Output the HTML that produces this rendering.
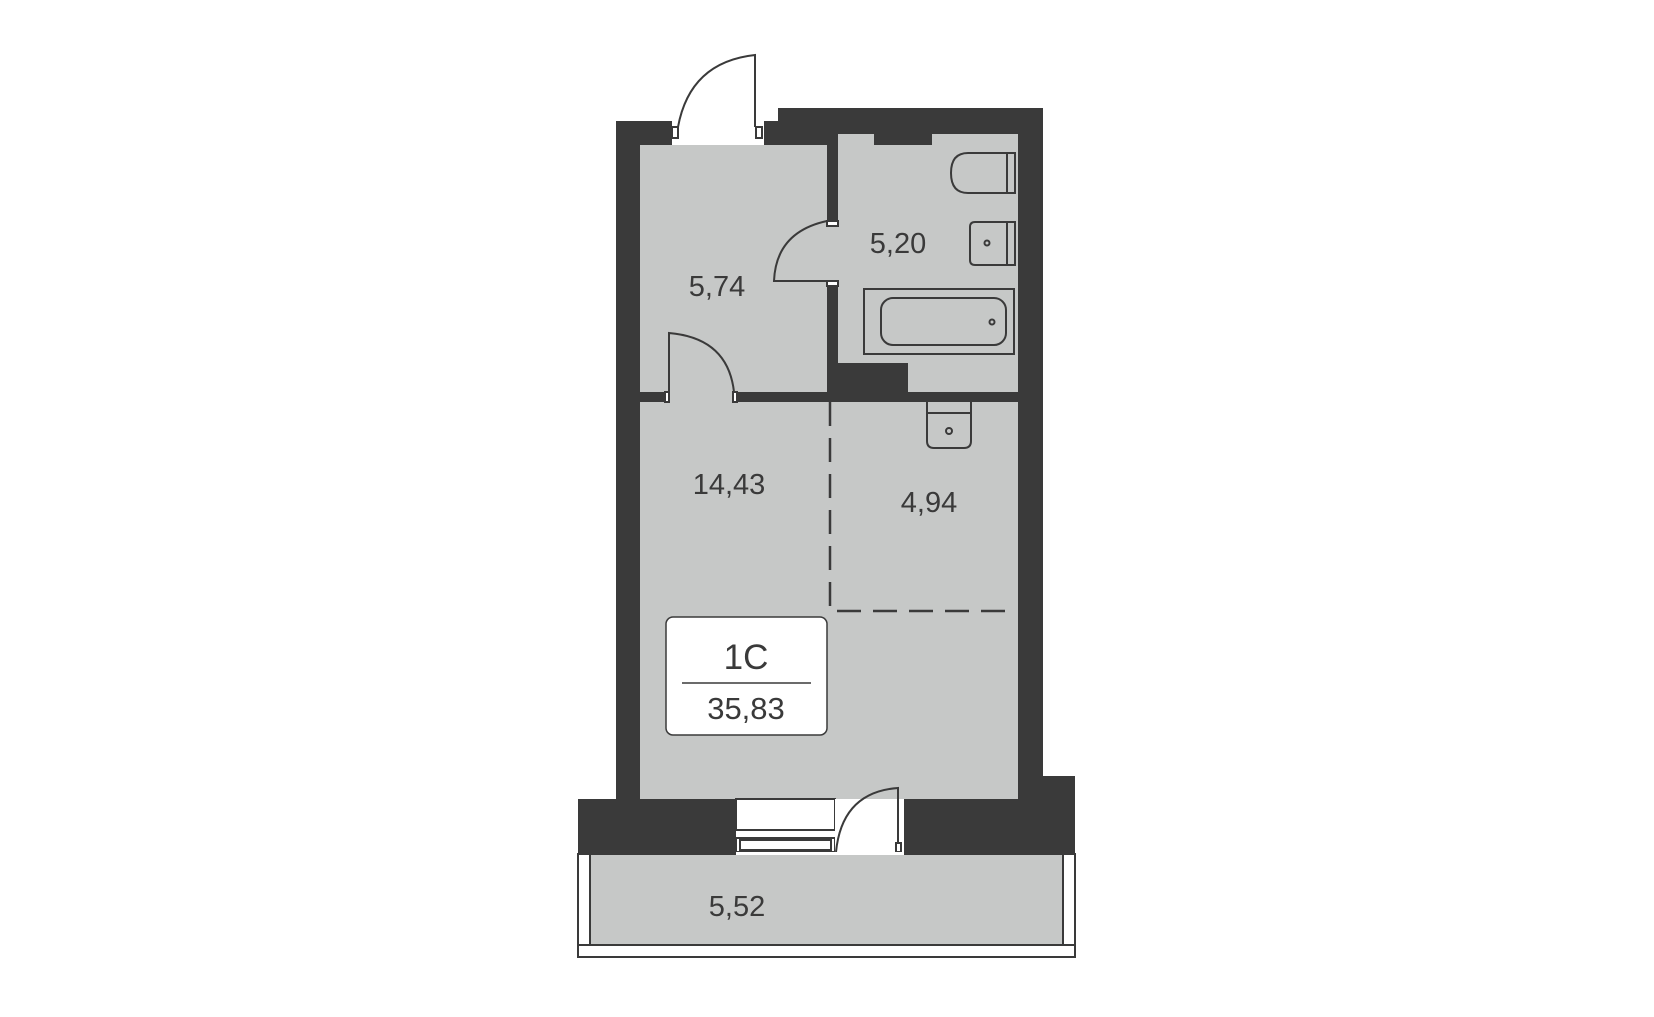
<!DOCTYPE html>
<html><head><meta charset="utf-8"><style>
html,body{margin:0;padding:0;background:#fff}
svg{display:block}
text{font-family:"Liberation Sans",sans-serif;fill:#3a3a3a}
</style></head><body>
<svg width="1654" height="1017" viewBox="0 0 1654 1017" xmlns="http://www.w3.org/2000/svg">
<rect width="1654" height="1017" fill="#fff"/>
<!-- floors -->
<rect x="640" y="145" width="188" height="256" fill="#c6c8c7"/>
<rect x="826" y="134" width="192" height="268" fill="#c6c8c7"/>
<rect x="640" y="400" width="378" height="399" fill="#c6c8c7"/>
<rect x="578" y="854" width="497" height="103" fill="#c6c8c7"/>
<!-- walls -->
<g fill="#3a3a3a">
<rect x="616" y="121" width="56" height="24"/>
<rect x="616" y="121" width="24" height="678"/>
<rect x="764" y="121" width="14" height="24"/>
<rect x="778" y="108" width="265" height="26"/>
<rect x="764" y="134" width="73" height="11"/>
<rect x="874" y="134" width="58" height="11"/>
<rect x="1018" y="108" width="25" height="668"/>
<rect x="1018" y="776" width="57" height="78"/>
<rect x="827" y="134" width="11" height="87"/>
<rect x="827" y="287" width="11" height="115"/>
<rect x="827" y="363" width="81" height="39"/>
<rect x="640" y="392" width="28" height="10"/>
<rect x="737" y="392" width="281" height="10"/>
<rect x="578" y="799" width="158" height="55"/>
<rect x="904" y="799" width="171" height="55"/>
<rect x="616" y="780" width="24" height="20"/>
</g>
<g fill="none" stroke="#3a3a3a" stroke-width="2">
<rect x="672" y="127" width="6" height="11" fill="#fff"/>
<rect x="756" y="127" width="6" height="11" fill="#fff"/>
<path d="M755 127 V55 Q690 62 678 127"/>
<rect x="827" y="221" width="11" height="5" fill="#fff"/>
<rect x="827" y="281" width="11" height="5" fill="#fff"/>
<path d="M827 281 H774 Q776 232 827 221"/>
<rect x="665" y="392" width="4" height="10" fill="#fff"/>
<rect x="733" y="392" width="4" height="10" fill="#fff"/>
<path d="M669 392 V333 Q728 338 734 392"/>
<path d="M1015 153 H968 Q951 153 951 173 Q951 193 968 193 H1015 Z"/>
<line x1="1007" y1="153" x2="1007" y2="193"/>
<path d="M1015 222 H975 Q970 222 970 227 V260 Q970 265 975 265 H1015 Z"/>
<line x1="1007" y1="222" x2="1007" y2="265"/>
<circle cx="987" cy="243" r="2.5"/>
<rect x="864" y="289" width="150" height="65"/>
<rect x="881" y="298" width="125" height="47" rx="12"/>
<circle cx="992" cy="322" r="2.5"/>
<path d="M927 402 V441 Q927 448 934 448 H964 Q971 448 971 441 V402"/>
<line x1="927" y1="413" x2="971" y2="413"/>
<circle cx="949" cy="431" r="3"/>
<path d="M830 402 V611 H1017" stroke-width="2.5" stroke-dasharray="24 12"/>
<rect x="736" y="799" width="99" height="31" fill="#fff"/>
<rect x="736" y="838" width="99" height="14" fill="#fff"/>
<rect x="740" y="840" width="91" height="10" fill="#fff"/>
<rect x="835" y="799" width="63" height="55" fill="#fff" stroke="none"/>
<path d="M898 852 V788 Q842 792 836 852"/>
<rect x="896" y="843" width="5" height="9" fill="#fff"/>
<rect x="578" y="854" width="497" height="103"/>
<rect x="578" y="854" width="12" height="103" fill="#fff"/>
<rect x="1063" y="854" width="12" height="103" fill="#fff"/>
<rect x="578" y="945" width="497" height="12" fill="#fff"/>
</g>
<rect x="736" y="852" width="168" height="3" fill="#fff"/>
<g font-size="29" text-anchor="middle">
<text x="717" y="296">5,74</text>
<text x="898" y="253">5,20</text>
<text x="729" y="494">14,43</text>
<text x="929" y="512">4,94</text>
<text x="737" y="916">5,52</text>
</g>
<rect x="666" y="617" width="161" height="118" rx="7" fill="#fff" stroke="#3a3a3a" stroke-width="1.5"/>
<line x1="682" y1="683" x2="811" y2="683" stroke="#3a3a3a" stroke-width="1.5"/>
<text x="746" y="669" font-size="35" text-anchor="middle">1C</text>
<text x="746" y="719" font-size="31" text-anchor="middle">35,83</text>
</svg>
</body></html>
